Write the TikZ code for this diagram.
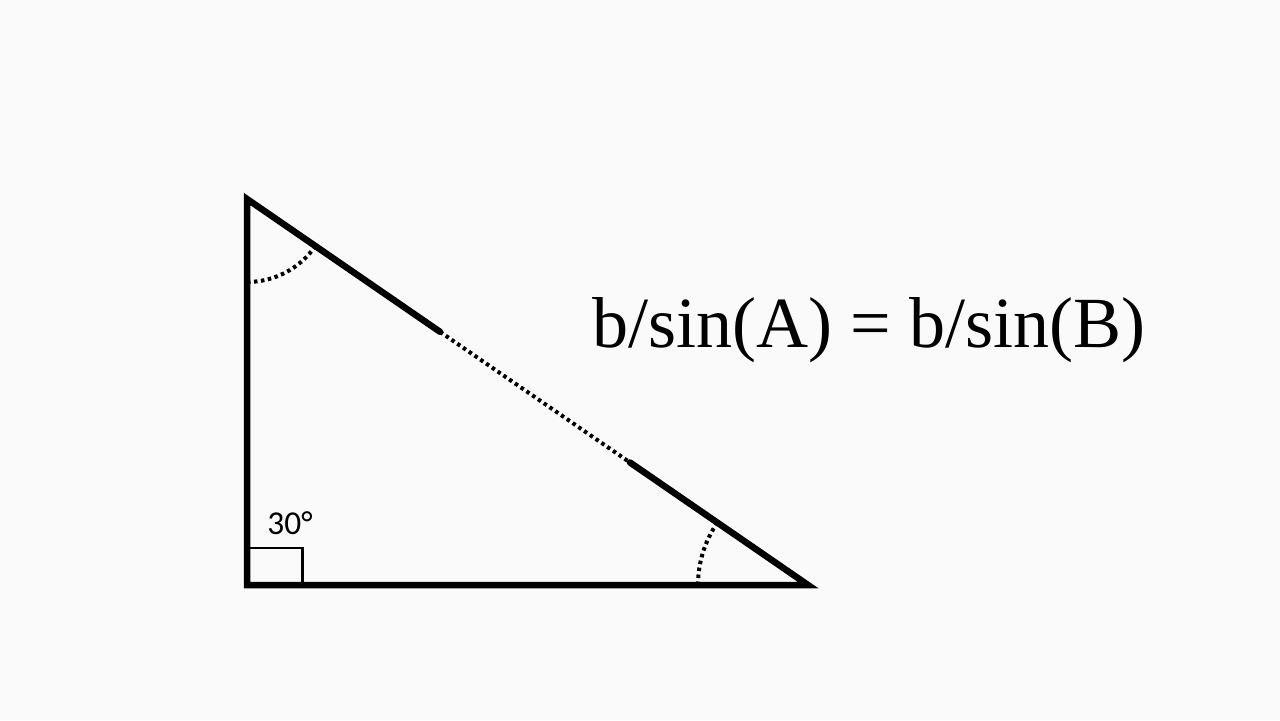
\documentclass[tikz,border=0pt]{standalone}
\usepackage{fontspec}
\setmainfont{Liberation Serif}
\newfontfamily\labelfont{Carlito}
\definecolor{paper}{RGB}{250,250,250}
\begin{document}
\begin{tikzpicture}[x=0.02cm, y=0.02cm, side/.style={line width=0.13cm, line cap=round, line join=miter},
		dots/.style={line width=0.08cm, dash pattern=on 0.07cm off 0.07cm}]
			\fill[paper] (0, 0) rectangle (1280, 720);
			\useasboundingbox (0, 0) rectangle (1280, 720);

			\coordinate (a) at (247, 521);
			\coordinate (c) at (247, 135);
			\coordinate (b) at (808, 135);
			\coordinate (p) at (440, 388.2);
			\coordinate (q) at (630, 257.5);

			\draw[side] (p) -- (a) -- (c) -- (b) -- (q);
			\draw[dots] (p) -- (q);
			\draw[line width=0.06cm] (247, 172) -| (302, 135);

			\draw[dots] ([shift={(-90:83)}]a) arc (-90:-34.5:83);
			\draw[dots] ([shift={(180:110)}]b) arc (180:145.5:110);

			\node (ang) at (290, 197) {\labelfont\fontsize{19}{19}\selectfont 30°};
			\node (law) at (869, 390) {\fontsize{41}{41}\selectfont b/sin(A) = b/sin(B)};
		\end{tikzpicture}
\end{document}
